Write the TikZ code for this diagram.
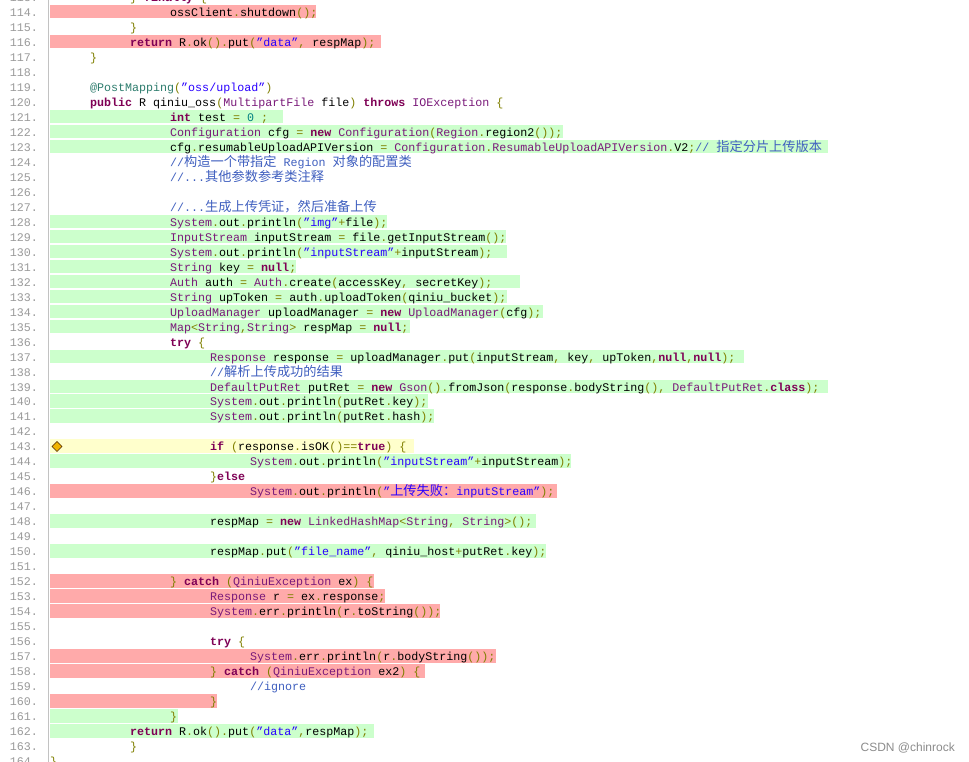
\documentclass[tikz,border=0pt]{standalone}
\usepackage{fontspec}
\setmainfont{Liberation Mono}
\newfontfamily\cjkf{Noto Sans CJK SC}
\newfontfamily\wmf{Liberation Sans}
\definecolor{kwc}{HTML}{7F0055}
\definecolor{tyc}{HTML}{7A1A7A}
\definecolor{stc}{HTML}{2A00FF}
\definecolor{cmc}{HTML}{3F5FBF}
\definecolor{puc}{HTML}{808000}
\definecolor{nmc}{HTML}{008080}
\definecolor{anc}{HTML}{2E7D6E}
\definecolor{lnc}{HTML}{9A9A9A}
\definecolor{hred}{HTML}{FFAAAA}
\definecolor{hgreen}{HTML}{CCFFCC}
\definecolor{hyel}{HTML}{FFFFCC}
\newcommand\zh[1]{{\cjkf\fontsize{13.2}{15}\selectfont #1}}
\newcommand\kw[1]{\textcolor{kwc}{\bfseries #1}}
\newcommand\ty[1]{\textcolor{tyc}{#1}}
\newcommand\st[1]{\textcolor{stc}{#1}}
\newcommand\cm[1]{\textcolor{cmc}{#1}}
\newcommand\pu[1]{\textcolor{puc}{#1}}
\newcommand\nm[1]{\textcolor{nmc}{#1}}
\newcommand\an[1]{\textcolor{anc}{#1}}
\newcommand\SO{\ty{System}\pu{.}out\pu{.}println}
\newcommand\SE{\ty{System}\pu{.}err\pu{.}println}
\begin{document}
\begin{tikzpicture}[x=1pt,y=-1pt,
  code/.style={anchor=base west,inner sep=0pt,font=\fontsize{11.67}{15}\selectfont},
  num/.style={anchor=base east,inner sep=0pt,text=lnc,font=\fontsize{11.67}{15}\selectfont}]
\useasboundingbox (0,0) rectangle (969,762);
\clip (0,0) rectangle (969,762);
\fill[white] (0,0) rectangle (969,762);
\newcommand\Y[1]{12+(#1-114)*14.98}
\newcommand\cl[3]{\node[code] (t#1) at ({#2},{\Y{#1}+4.5}) {#3};}
\newcommand\hl[3]{\fill[#2] (50,{\Y{#1}-7}) rectangle (#3,{\Y{#1}+6.5});}
\draw[lnc!60,line width=0.8pt] (48.5,0) -- (48.5,762);
\foreach \i in {113,...,164} {\node[num] (n\i) at (38,{\Y{\i}+4.5}) {\i.};}
% highlights
\hl{114}{hred}{316}\hl{116}{hred}{381}
\hl{121}{hgreen}{283}\hl{122}{hgreen}{563}\hl{123}{hgreen}{828}
\hl{128}{hgreen}{387}\hl{129}{hgreen}{506}\hl{130}{hgreen}{507}\hl{131}{hgreen}{296}
\hl{132}{hgreen}{520}\hl{133}{hgreen}{507}\hl{134}{hgreen}{543}\hl{135}{hgreen}{410}
\hl{137}{hgreen}{744}\hl{139}{hgreen}{828}\hl{140}{hgreen}{428}\hl{141}{hgreen}{434}
\hl{143}{hyel}{414}\hl{144}{hgreen}{571}\hl{146}{hred}{557}\hl{148}{hgreen}{536}
\hl{150}{hgreen}{546}\hl{152}{hred}{374}\hl{153}{hred}{385}\hl{154}{hred}{440}
\hl{157}{hred}{496}\hl{158}{hred}{425}\hl{160}{hred}{217}\hl{161}{hgreen}{178}
\hl{162}{hgreen}{374}
% diamond
\filldraw[draw=black!70!orange,fill={rgb,255:red,240;green,180;blue,0},line width=0.5pt]
  (57,{\Y{143}-5}) -- (62,{\Y{143}}) -- (57,{\Y{143}+5}) -- (52,{\Y{143}}) -- cycle;
% code
\cl{113}{130}{\pu{\}} \kw{finally} \pu{\{}}
\cl{114}{170}{ossClient\pu{.}shutdown\pu{();}}
\cl{115}{130}{\pu{\}}}
\cl{116}{130}{\kw{return} R\pu{.}ok\pu{().}put\pu{(}\st{"data"}\pu{,} respMap\pu{);}}
\cl{117}{90}{\pu{\}}}
\cl{119}{90}{\an{@PostMapping}\pu{(}\st{"oss/upload"}\pu{)}}
\cl{120}{90}{\kw{public} R qiniu\_oss\pu{(}\ty{MultipartFile} file\pu{)} \kw{throws} \ty{IOException} \pu{\{}}
\cl{121}{170}{\kw{int} test \pu{=} \nm{0} \pu{;}}
\cl{122}{170}{\ty{Configuration} cfg \pu{=} \kw{new} \ty{Configuration}\pu{(}\ty{Region}\pu{.}region2\pu{());}}
\cl{123}{170}{cfg\pu{.}resumableUploadAPIVersion \pu{=} \ty{Configuration}\pu{.}\ty{ResumableUploadAPIVersion}\pu{.}V2\pu{;}\cm{// \zh{指定分片上传版本}}}
\cl{124}{170}{\cm{//\zh{构造一个带指定} Region \zh{对象的配置类}}}
\cl{125}{170}{\cm{//...\zh{其他参数参考类注释}}}
\cl{127}{170}{\cm{//...\zh{生成上传凭证，然后准备上传}}}
\cl{128}{170}{\SO\pu{(}\st{"img"}\pu{+}file\pu{);}}
\cl{129}{170}{\ty{InputStream} inputStream \pu{=} file\pu{.}getInputStream\pu{();}}
\cl{130}{170}{\SO\pu{(}\st{"inputStream"}\pu{+}inputStream\pu{);}}
\cl{131}{170}{\ty{String} key \pu{=} \kw{null}\pu{;}}
\cl{132}{170}{\ty{Auth} auth \pu{=} \ty{Auth}\pu{.}create\pu{(}accessKey\pu{,} secretKey\pu{);}}
\cl{133}{170}{\ty{String} upToken \pu{=} auth\pu{.}uploadToken\pu{(}qiniu\_bucket\pu{);}}
\cl{134}{170}{\ty{UploadManager} uploadManager \pu{=} \kw{new} \ty{UploadManager}\pu{(}cfg\pu{);}}
\cl{135}{170}{\ty{Map}\pu{<}\ty{String}\pu{,}\ty{String}\pu{>} respMap \pu{=} \kw{null}\pu{;}}
\cl{136}{170}{\kw{try} \pu{\{}}
\cl{137}{210}{\ty{Response} response \pu{=} uploadManager\pu{.}put\pu{(}inputStream\pu{,} key\pu{,} upToken\pu{,}\kw{null}\pu{,}\kw{null}\pu{);}}
\cl{138}{210}{\cm{//\zh{解析上传成功的结果}}}
\cl{139}{210}{\ty{DefaultPutRet} putRet \pu{=} \kw{new} \ty{Gson}\pu{().}fromJson\pu{(}response\pu{.}bodyString\pu{(),} \ty{DefaultPutRet}\pu{.}\kw{class}\pu{);}}
\cl{140}{210}{\SO\pu{(}putRet\pu{.}key\pu{);}}
\cl{141}{210}{\SO\pu{(}putRet\pu{.}hash\pu{);}}
\cl{143}{210}{\kw{if} \pu{(}response\pu{.}isOK\pu{()==}\kw{true}\pu{)} \pu{\{}}
\cl{144}{250}{\SO\pu{(}\st{"inputStream"}\pu{+}inputStream\pu{);}}
\cl{145}{210}{\pu{\}}\kw{else}}
\cl{146}{250}{\SO\pu{(}\st{"\zh{上传失败：}inputStream"}\pu{);}}
\cl{148}{210}{respMap \pu{=} \kw{new} \ty{LinkedHashMap}\pu{<}\ty{String}\pu{,} \ty{String}\pu{>();}}
\cl{150}{210}{respMap\pu{.}put\pu{(}\st{"file\_name"}\pu{,} qiniu\_host\pu{+}putRet\pu{.}key\pu{);}}
\cl{152}{170}{\pu{\}} \kw{catch} \pu{(}\ty{QiniuException} ex\pu{)} \pu{\{}}
\cl{153}{210}{\ty{Response} r \pu{=} ex\pu{.}response\pu{;}}
\cl{154}{210}{\SE\pu{(}r\pu{.}toString\pu{());}}
\cl{156}{210}{\kw{try} \pu{\{}}
\cl{157}{250}{\SE\pu{(}r\pu{.}bodyString\pu{());}}
\cl{158}{210}{\pu{\}} \kw{catch} \pu{(}\ty{QiniuException} ex2\pu{)} \pu{\{}}
\cl{159}{250}{\cm{//ignore}}
\cl{160}{210}{\pu{\}}}
\cl{161}{170}{\pu{\}}}
\cl{162}{130}{\kw{return} R\pu{.}ok\pu{().}put\pu{(}\st{"data"}\pu{,}respMap\pu{);}}
\cl{163}{130}{\pu{\}}}
\cl{164}{50}{\pu{\}}}
\node[anchor=base east,inner sep=0pt,text=black!45,font=\wmf\fontsize{12}{14}\selectfont] (wm) at (955,751) {CSDN @chinrock};
\end{tikzpicture}
\end{document}
